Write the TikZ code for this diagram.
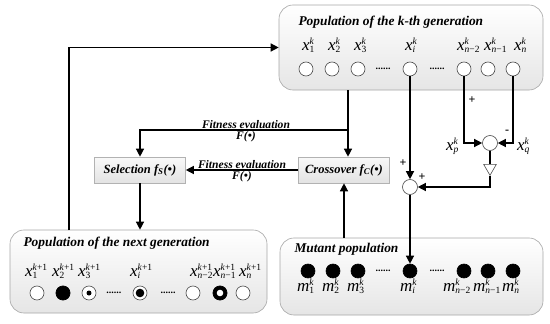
\documentclass[tikz,border=0pt]{standalone}
\usepackage{fontspec}
\setmainfont{Liberation Serif}
\usetikzlibrary{arrows.meta,shapes.geometric}
\newcommand{\vr}[3]{$\mbox{\fontsize{17}{17}\selectfont\itshape #1}^{\mbox{\fontsize{9.5}{9.5}\selectfont #3}}_{\mbox{\fontsize{9.5}{9.5}\selectfont #2}}$}
\tikzset{
  arr/.style={-{Triangle[length=8pt,width=8pt]}, line width=1.3pt},
  ln/.style={line width=1.3pt},
  popbox/.style={draw=gray!70, line width=0.6pt, rounded corners=14pt, top color=white, bottom color=gray!20, inner sep=0pt},
  opbox/.style={draw=gray!60, line width=0.6pt, top color=gray!5, bottom color=gray!22, minimum width=91pt, minimum height=26pt, inner sep=0pt, font=\fontsize{12.5}{14}\selectfont\bfseries\itshape},
  ttl/.style={anchor=west, font=\fontsize{13.4}{15}\selectfont\bfseries\itshape},
  fit/.style={font=\fontsize{11.6}{13}\selectfont\bfseries\itshape, inner sep=1pt},
  ind/.style={circle, draw=gray!60!black, line width=0.6pt, fill=white, minimum size=14pt, inner sep=0pt},
  full/.style={ind, fill=black, draw=black},
  sumc/.style={circle, draw=gray!60!black, line width=0.6pt, fill=white, minimum size=15pt, inner sep=0pt},
  lab/.style={anchor=base west, inner sep=0pt},
  sgn/.style={font=\fontsize{12}{12}\selectfont\bfseries, inner sep=0pt},
  dotsn/.style={font=\fontsize{10}{10}\selectfont\bfseries, inner sep=0pt}
}
\begin{document}
\begin{tikzpicture}[x=1pt, y=-1pt]
  \useasboundingbox (0,0) rectangle (550,324);
  % 1. population boxes
  \node[popbox, minimum width=264pt, minimum height=85pt] (top) at (411,47.5) {};
  \node[popbox, minimum width=257pt, minimum height=83pt] (next) at (138.5,271.5) {};
  \node[popbox, minimum width=263pt, minimum height=77pt] (mut) at (411.5,276.5) {};
  \node[ttl] at (295,22) {Population of the k-th generation};
  \node[ttl] at (20,243) {Population of the next generation};
  \node[ttl] at (291,249) {Mutant population};

  % 2. individuals of the k-th generation
  \foreach \n/\x/\lx/\s in {1/306/302/1, 2/332/328/2, 3/358/354/3, i/410/405/\textit{i},
      a/464/457/\textit{n}−2, b/488/484/\textit{n}−1, n/513/514/\textit{n}}{
    \node[ind] (t\n) at (\x,69) {};
    \node[lab] at (\lx,50) {\vr{x}{\s}{\textit{k}}};
  }
  \node[dotsn] at (383,69) {......};
  \node[dotsn] at (437,69) {......};

  % 3. individuals of the next generation
  \foreach \n/\x/\lx/\s in {1/37/25/1, 2/63/52/2, 3/89/78/3, i/140/130/\textit{i},
      a/193/190/\textit{n}−2, b/220/213/\textit{n}−1, n/243/239/\textit{n}}{
    \node[ind] (g\n) at (\x,293) {};
    \node[lab] at (\lx,276) {\vr{x}{\s}{\textit{k}+1}};
  }
  \node[full] at (g2) {};
  \node[full] at (gb) {};
  \fill[white] (gb) circle (3.3pt);
  \fill[black] (g3) circle (2.5pt);
  \fill[black] (gi) circle (4.3pt);
  \node[dotsn] at (114,293) {......};
  \node[dotsn] at (168,293) {......};

  % 4. mutant individuals
  \foreach \n/\x/\lx/\s in {1/308/297/1, 2/333/322/2, 3/358/347/3, i/410/400/\textit{i},
      a/464/443/\textit{n}−2, b/488/473/\textit{n}−1, n/513/502/\textit{n}}{
    \node[full] (m\n) at (\x,271) {};
    \node[lab] at (\lx,291) {\vr{m}{\s}{\textit{k}}};
  }
  \node[dotsn] at (383,271) {......};
  \node[dotsn] at (437,271) {......};

  % 5. operators
  \node[opbox] (sel) at (140,170) {Selection \textit{f}\textsubscript{S}(•)};
  \node[opbox] (cro) at (344,170) {Crossover \textit{f}\textsubscript{C}(•)};

  % 6. mutation part
  \node[sumc] (dif) at (490,143) {};
  \node[sumc] (sum) at (410,187) {};
  \node[isosceles triangle, shape border rotate=-90, isosceles triangle apex angle=60,
        draw=gray!60!black, line width=0.6pt, fill=white, minimum height=11pt, inner sep=0pt] (amp) at (490,168) {};
  \node[lab] at (446,150) {\vr{x}{\textit{p}}{\textit{k}}};
  \node[lab] at (517,150) {\vr{x}{\textit{q}}{\textit{k}}};
  \node[sgn] at (472,100) {+};
  \node[sgn] at (507,132) {-};
  \node[sgn] at (403,163) {+};
  \node[sgn] at (422,177) {+};

  % 7. connectors
  \coordinate (c1) at (69,230);
  \draw[arr] (c1) |- (top.west);
  \coordinate (c2) at (348,90);
  \draw[arr] (c2) -- (cro.north -| c2);
  \coordinate (c3) at (348,130);
  \draw[arr] (c3) -| (sel.north);
  \node[fit, above] at (246,130) {Fitness evaluation};
  \node[fit, below] at (246,130) {\textit{F}(•)};
  \draw[arr] (cro.west) -- (sel.east)
    node[fit, midway, above] {Fitness evaluation}
    node[fit, midway, below] {\textit{F}(•)};
  \draw[arr] (sel.south) -- (next.north -| sel.south);
  \draw[arr] (mut.north -| cro.south) -- (cro.south);
  \draw[arr] (ti.south) -- (sum.north);
  \draw[arr] (sum.south) -- (mi.north);
  \draw[arr] (ta.south) |- (dif.west);
  \draw[arr] (tn.south) |- (dif.east);
  \draw[ln] (dif.south) -- (amp.north);
  \draw[arr] (amp.apex) |- (sum.east);
\end{tikzpicture}
\end{document}
